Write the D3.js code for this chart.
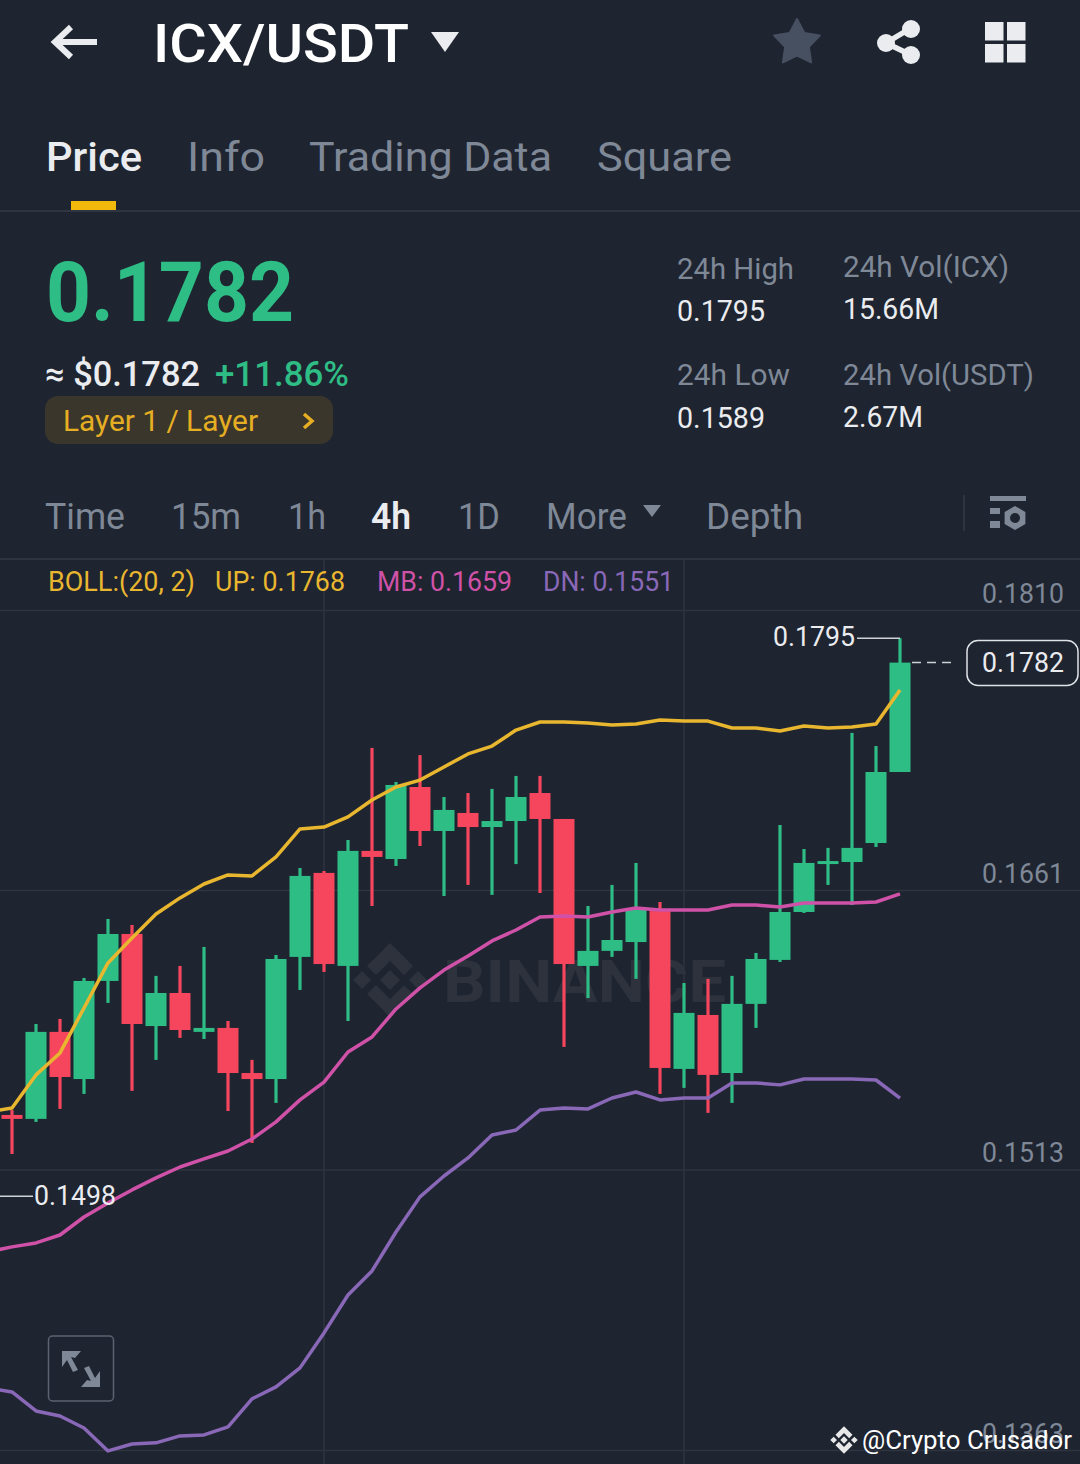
<!DOCTYPE html>
<html>
<head>
<meta charset="utf-8">
<script src="https://cdnjs.cloudflare.com/ajax/libs/d3/7.8.5/d3.min.js"></script>
<style>
html,body{margin:0;padding:0;background:#1e2430;overflow:hidden;}
svg{display:block;}
text{font-family:Roboto,"Noto Sans",sans-serif;}
</style>
</head>
<body>
<svg id="chart" width="1080" height="1464"></svg>
<script>
var candleOpen=[0.15413,0.15392,0.15855,0.15604,0.16126,0.16376,0.15886,0.16062,0.15855,0.15876,0.15636,0.15604,0.16254,0.16701,0.16206,0.16818,0.16775,0.17158,0.16924,0.17020,0.16945,0.16977,0.17126,0.16988,0.16206,0.16286,0.16333,0.16498,0.15658,0.15945,0.15636,0.16004,0.16238,0.16493,0.16748,0.16759,0.16860,0.17238];
var candleHigh=[0.15439,0.15897,0.15924,0.16142,0.16456,0.16424,0.16153,0.16206,0.16307,0.15913,0.15706,0.16264,0.16727,0.16711,0.16876,0.17366,0.17185,0.17328,0.17105,0.17126,0.17148,0.17217,0.17217,0.16988,0.16525,0.16637,0.16754,0.16546,0.16115,0.16137,0.16153,0.16275,0.16956,0.16828,0.16834,0.17446,0.17376,0.1795];
var candleLow=[0.15205,0.15376,0.15445,0.15525,0.16009,0.15541,0.15706,0.15823,0.15817,0.15434,0.15264,0.15477,0.16078,0.16174,0.15913,0.16525,0.16738,0.16844,0.16578,0.16637,0.16584,0.16748,0.16594,0.15775,0.16035,0.16254,0.16137,0.15525,0.15557,0.15424,0.15477,0.15876,0.16227,0.16488,0.16637,0.16530,0.16839,0.17238];
var candleClose=[0.15392,0.15855,0.15615,0.16126,0.16376,0.15897,0.16062,0.15865,0.15876,0.15636,0.15604,0.16243,0.16685,0.16216,0.16818,0.16786,0.17169,0.16924,0.17036,0.16945,0.16977,0.17105,0.16988,0.16216,0.16286,0.16344,0.16504,0.15663,0.15956,0.15626,0.16004,0.16243,0.16493,0.16754,0.16764,0.16834,0.17238,0.1782];

// bands start one candle before the first visible one
var bollUp=[0.15429,0.15450,0.15626,0.15743,0.15982,0.16222,0.16355,0.16482,0.16568,0.16642,0.16690,0.16685,0.16786,0.16935,0.16945,0.16999,0.17089,0.17158,0.17195,0.17265,0.17334,0.17376,0.17461,0.17504,0.17504,0.17499,0.17488,0.17493,0.17515,0.17509,0.17509,0.17472,0.17472,0.17456,0.17483,0.17472,0.17477,0.17493,0.17674];
var bollMid=[0.14684,0.14711,0.14732,0.14774,0.14870,0.14945,0.15014,0.15078,0.15136,0.15179,0.15221,0.15285,0.15376,0.15493,0.15588,0.15748,0.15828,0.15977,0.16089,0.16184,0.16259,0.16339,0.16397,0.16466,0.16472,0.16466,0.16493,0.16514,0.16504,0.16504,0.16504,0.16530,0.16530,0.16520,0.16541,0.16541,0.16541,0.16546,0.16589];
var bollDn=[0.13960,0.13939,0.13838,0.13811,0.13747,0.13625,0.13662,0.13668,0.13705,0.13710,0.13753,0.13902,0.13966,0.14067,0.14253,0.14455,0.14583,0.14790,0.14977,0.15088,0.15184,0.15306,0.15333,0.15439,0.15450,0.15445,0.15503,0.15535,0.15493,0.15503,0.15503,0.15583,0.15583,0.15573,0.15604,0.15604,0.15604,0.15599,0.15503];

var tickPrices=[0.1810,0.1661,0.15122,0.1363];
var tickLabels=['0.1810','0.1661','0.1513','0.1363'];
var gridCandles=[13,28];
var highIndex=37,highPrice=0.1795;
var lowPrice=0.1498;
var lastIndex=37,lastPrice=0.1782;

var colorBg='#1e2430',colorGrid='#2e3440',colorUp='#2ebd85',colorDown='#f6465d';
var colorGray='#7f8896',colorWhite='#eaecef',colorYellow='#e8b62f',colorMid='#cf52a8',colorDn='#8a68b8';

var svg=d3.select('#chart');
svg.append('rect').attr('width',1080).attr('height',1464).attr('fill',colorBg);

var x=d3.scaleLinear().domain([0,37]).range([12,900]);
var y=d3.scaleLinear().domain([0.1363,0.1810]).range([1450,610]);

function label(px,py,str,size,color,width,weight){
	var t=svg.append('text').attr('x',px).attr('y',py).attr('font-size',size)
		.attr('fill',color).attr('font-weight',weight||400).text(str);
	if(width) t.attr('textLength',width).attr('lengthAdjust','spacingAndGlyphs');
	return t;
}

// header
svg.append('path').attr('d','M97 42H56M71 27L55 42L71 57').attr('fill','none').attr('stroke',colorWhite).attr('stroke-width',6);
label(153,62,'ICX/USDT',53,'#ffffff',256,500);
svg.append('path').attr('d','M431 32H459L445 52Z').attr('fill',colorWhite);
var star=d3.range(10).map(function(i){
	var r=i%2?12.5:24,a=-Math.PI/2+i*Math.PI/5;
	return [797+r*Math.cos(a),43+r*Math.sin(a)];
});
svg.append('path').attr('d',d3.line()(star)+'Z').attr('fill','#475060').attr('stroke','#475060').attr('stroke-width',2).attr('stroke-linejoin','round');
svg.append('path').attr('d','M911 28L886 43L911 55').attr('fill','none').attr('stroke',colorWhite).attr('stroke-width',5.5);
[[911,29],[886,43],[911,55]].forEach(function(c){
	svg.append('circle').attr('cx',c[0]).attr('cy',c[1]).attr('r',9).attr('fill',colorWhite);
});
[[985,22],[1007,22],[985,44],[1007,44]].forEach(function(c){
	svg.append('rect').attr('x',c[0]).attr('y',c[1]).attr('width',18.5).attr('height',18.5).attr('fill',colorWhite);
});

// tabs
label(46,171,'Price',40,colorWhite,96,500);
label(187,171,'Info',40,colorGray,78);
label(309,171,'Trading Data',40,colorGray,243);
label(597,171,'Square',40,colorGray,135);
svg.append('rect').attr('x',71).attr('y',201).attr('width',45).attr('height',9).attr('fill','#f0b90b');
svg.append('rect').attr('x',0).attr('y',210).attr('width',1080).attr('height',2).attr('fill',colorGrid);

// price block
label(46,321,'0.1782',83,colorUp,248,700);
label(45,386,'≈ $0.1782',35,colorWhite,155,500);
label(215,386,'+11.86%',35,colorUp,134,500);
svg.append('rect').attr('x',45).attr('y',396).attr('width',288).attr('height',48).attr('rx',13).attr('fill','#3a362b');
label(63,431,'Layer 1 / Layer',30,'#e6ae22',195);
svg.append('path').attr('d','M304 414L312 421L304 428').attr('fill','none').attr('stroke','#e6ae22').attr('stroke-width',3.5);

label(677,279,'24h High',30,colorGray,117);
label(677,321,'0.1795',30,colorWhite,88);
label(843,277,'24h Vol(ICX)',30,colorGray,166);
label(843,319,'15.66M',30,colorWhite,96);
label(677,385,'24h Low',30,colorGray,113);
label(677,428,'0.1589',30,colorWhite,88);
label(843,385,'24h Vol(USDT)',30,colorGray,191);
label(843,427,'2.67M',30,colorWhite,80);

// interval row
label(45,529,'Time',36,colorGray,80);
label(171,529,'15m',36,colorGray,70);
label(288,529,'1h',36,colorGray,38);
label(371,529,'4h',36,colorWhite,40,600);
label(458,529,'1D',36,colorGray,42);
label(546,529,'More',36,colorGray,81);
svg.append('path').attr('d','M643 505H661L652 517Z').attr('fill',colorGray);
label(706,529,'Depth',36,colorGray,97);
svg.append('rect').attr('x',963).attr('y',495).attr('width',2).attr('height',36).attr('fill',colorGrid);
svg.append('rect').attr('x',990).attr('y',496).attr('width',36).attr('height',5).attr('fill',colorGray);
svg.append('rect').attr('x',990).attr('y',508).attr('width',10).attr('height',6).attr('fill',colorGray);
svg.append('rect').attr('x',990).attr('y',521).attr('width',10).attr('height',7).attr('fill',colorGray);
var hex=d3.range(6).map(function(i){
	var a=Math.PI/6+i*Math.PI/3;
	return [1015+12*Math.cos(a),518+12*Math.sin(a)];
});
svg.append('path').attr('d',d3.line()(hex)+'Z').attr('fill',colorGray);
svg.append('circle').attr('cx',1015).attr('cy',518).attr('r',5).attr('fill',colorBg);
svg.append('rect').attr('x',0).attr('y',558).attr('width',1080).attr('height',2).attr('fill',colorGrid);

// grid + price axis
var axis=d3.axisRight(y).tickValues(tickPrices).tickSize(1080).tickFormat(function(d,i){return tickLabels[i];});
var axisG=svg.append('g').call(axis);
axisG.select('.domain').remove();
axisG.selectAll('line').attr('stroke',colorGrid).attr('stroke-width',1.5);
axisG.selectAll('text').attr('x',1064).attr('dy',0).attr('y',-8).attr('text-anchor','end')
	.attr('font-size',27.5).attr('font-family','Roboto').attr('fill',colorGray)
	.attr('textLength',82).attr('lengthAdjust','spacingAndGlyphs');

svg.append('g').selectAll('line').data(gridCandles).enter().append('line')
	.attr('x1',function(d){return x(d);}).attr('x2',function(d){return x(d);})
	.attr('y1',560).attr('y2',1464).attr('stroke',colorGrid).attr('stroke-width',1.5);

// binance logo, used for the watermark and the corner badge
function logo(cx,cy,s,color){
	var g=svg.append('g').attr('transform','translate('+cx+','+cy+') scale('+s+')').attr('fill',color);
	g.append('path').attr('d','M0 -10L10 0L0 10L-10 0Z');
	g.append('path').attr('d','M-37 0L-28 -9L-19 0L-28 9Z');
	g.append('path').attr('d','M37 0L28 -9L19 0L28 9Z');
	g.append('path').attr('d','M0 -37L23 -14L14 -5L0 -19L-14 -5L-23 -14Z');
	g.append('path').attr('d','M0 37L23 14L14 5L0 19L-14 5L-23 14Z');
}
logo(390,980,1.0,'#2d323d');
label(443,1002,'BINANCE',59,'#2d323d',283,700);

// candles
var candles=d3.range(candleOpen.length).map(function(i){
	return {i:i,open:candleOpen[i],high:candleHigh[i],low:candleLow[i],close:candleClose[i]};
});
function candleColor(d){return d.close>=d.open?colorUp:colorDown;}
var candleG=svg.append('g').selectAll('g').data(candles).enter().append('g');
candleG.append('line')
	.attr('x1',function(d){return x(d.i);}).attr('x2',function(d){return x(d.i);})
	.attr('y1',function(d){return y(d.high);}).attr('y2',function(d){return y(d.low);})
	.attr('stroke',candleColor).attr('stroke-width',3.2);
candleG.append('rect')
	.attr('x',function(d){return x(d.i)-10.5;}).attr('width',21)
	.attr('y',function(d){return y(Math.max(d.open,d.close));})
	.attr('height',function(d){return Math.max(3,Math.abs(y(d.open)-y(d.close)));})
	.attr('fill',candleColor);

// bollinger lines
var bandLine=d3.line().x(function(d,i){return x(i-1);}).y(function(d){return y(d);});
[[bollUp,colorYellow],[bollMid,colorMid],[bollDn,colorDn]].forEach(function(b){
	svg.append('path').attr('d',bandLine(b[0])).attr('fill','none').attr('stroke',b[1])
		.attr('stroke-width',3.5).attr('stroke-linejoin','round');
});

// legend row
label(48,591,'BOLL:(20, 2)',27,colorYellow,147);
label(215,591,'UP: 0.1768',27,colorYellow,130);
label(377,591,'MB: 0.1659',27,colorMid,135);
label(543,591,'DN: 0.1551',27,colorDn,131);

// high / low / last markers
svg.append('line').attr('x1',857).attr('x2',x(highIndex)).attr('y1',y(highPrice)).attr('y2',y(highPrice)).attr('stroke','#cfd3d8').attr('stroke-width',1.5);
label(773,646,'0.1795',27.5,colorWhite,82);
svg.append('line').attr('x1',0).attr('x2',33).attr('y1',y(lowPrice)).attr('y2',y(lowPrice)).attr('stroke','#cfd3d8').attr('stroke-width',1.5);
label(34,1205,'0.1498',27.5,colorWhite,82);
svg.append('line').attr('x1',x(lastIndex)+12).attr('x2',954).attr('y1',y(lastPrice)).attr('y2',y(lastPrice))
	.attr('stroke','#cfd3d8').attr('stroke-width',1.5).attr('stroke-dasharray','9 6');
svg.append('rect').attr('x',967).attr('y',640.5).attr('width',111).attr('height',45).attr('rx',11)
	.attr('fill',colorBg).attr('stroke','#dfe2e6').attr('stroke-width',1.5);
label(982,672,'0.1782',27.5,colorWhite,82);

// expand button
svg.append('rect').attr('x',48.5).attr('y',1336).attr('width',65).attr('height',65).attr('rx',4)
	.attr('fill','none').attr('stroke','#5b6370').attr('stroke-width',1.5);
svg.append('path').attr('d','M62 1351H81L75 1358L71 1357L78 1370L73 1372L67 1360L62 1367Z').attr('fill',colorGray);
svg.append('path').attr('d','M100 1387H81L87 1380L91 1381L84 1368L89 1366L95 1378L100 1371Z').attr('fill',colorGray);

// corner badge
logo(844,1440,0.37,'#e8e8e8');
label(862,1449,'@Crypto Crusador',26,'#ffffff',210);
</script>
</body>
</html>
